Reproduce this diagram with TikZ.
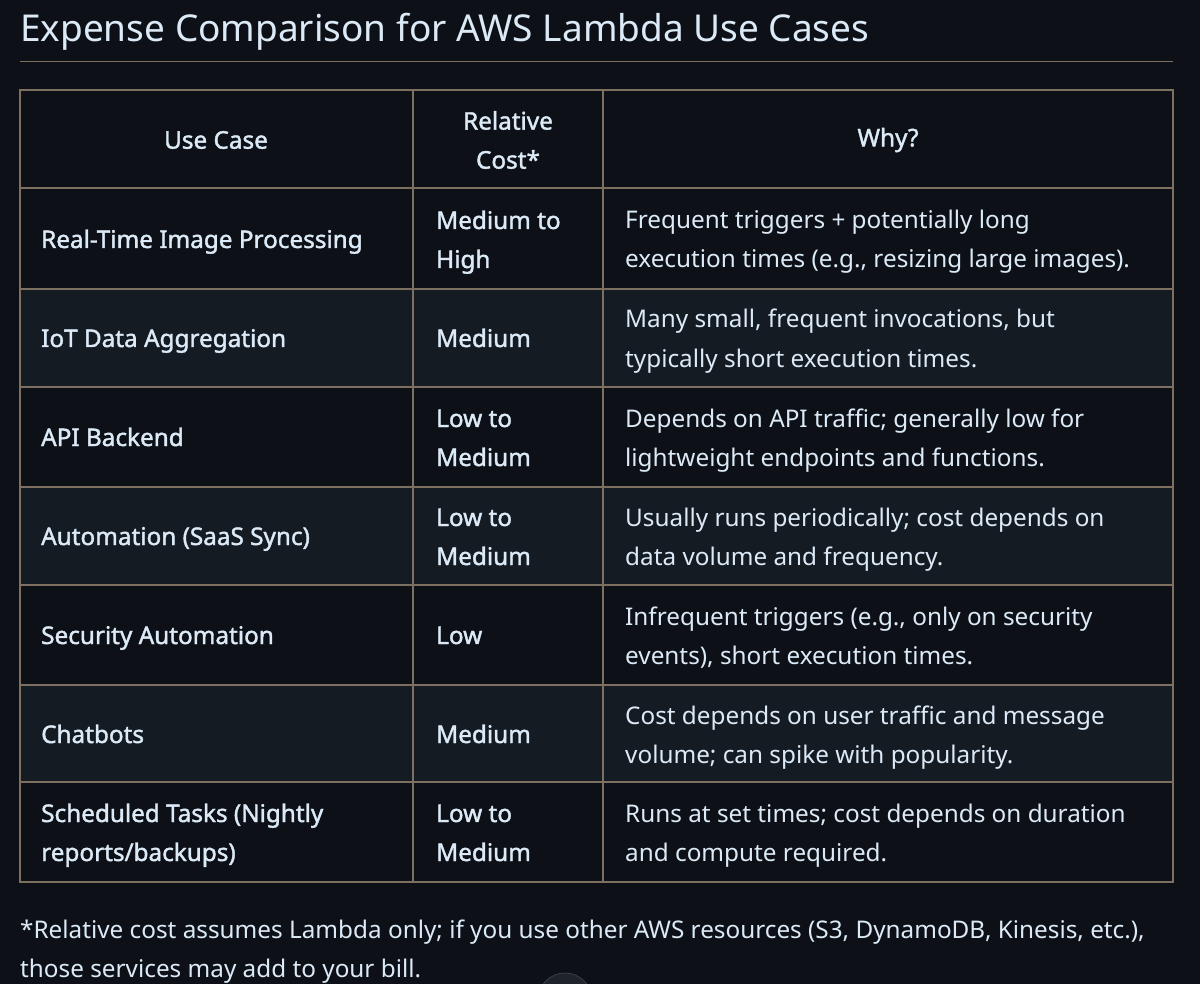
\documentclass[tikz,border=0pt]{standalone}
\usepackage{fontspec}
\setmainfont{Noto Sans}[AutoFakeBold=1.6]
\begin{document}
\begin{tikzpicture}[x=1pt,y=-1pt,
  txt/.style={anchor=base west,inner sep=0pt,text=fg,font=\fontsize{24.3}{39}\selectfont},
  bt/.style={txt,font=\fontsize{24.3}{39}\selectfont\bfseries},
  hd/.style={anchor=center,inner sep=0pt,text=fg,align=center,font=\fontsize{24.3}{39}\selectfont\bfseries}]
\definecolor{bg}{HTML}{0D1117}
\definecolor{alt}{HTML}{151B23}
\definecolor{fg}{HTML}{DCEAF7}
\definecolor{bd}{HTML}{7D7060}
\definecolor{btn}{HTML}{1F242C}
\definecolor{btnbd}{HTML}{3A3F47}
\useasboundingbox (0,0) rectangle (1200,984);
\fill[bg] (0,0) rectangle (1200,984);
\foreach \a/\b in {289/387,487/585,685/782}{\fill[alt] (20,\a) rectangle (1173,\b);}
\node[anchor=base west,inner sep=0pt,text=fg,font=\fontsize{37}{44}\selectfont] (title) at (20,42) {Expense Comparison for AWS Lambda Use Cases};
\draw[bd,line width=1pt] (20,62) -- (1173,62);
\draw[bd,line width=1.2pt] (20,90) rectangle (1173,882);
\foreach \y in {188,289,387,487,585,685,782}{\draw[bd,line width=1.2pt] (20,\y) -- (1173,\y);}
\foreach \x in {413,603}{\draw[bd,line width=1.2pt] (\x,90) -- (\x,882);}
\node[hd] (h1) at (216,140) {Use Case};
\node[hd] (h2) at (508,140) {Relative\\Cost*};
\node[hd] (h3) at (888,140) {Why?};
% rows
\node[bt] (a1) at (41,248) {Real-Time Image Processing};
\node[bt] (b1) at (436,229) {Medium to};
\node[bt] (b1b) at (436,268) {High};
\node[txt] (c1) at (625,229) {Frequent triggers + potentially long};
\node[txt] (c1b) at (625,268) {execution times (e.g., resizing large images).};
\node[bt] (a2) at (41,347) {IoT Data Aggregation};
\node[bt] (b2) at (436,347) {Medium};
\node[txt] (c2) at (625,328) {Many small, frequent invocations, but};
\node[txt] (c2b) at (625,367) {typically short execution times.};
\node[bt] (a3) at (41,446) {API Backend};
\node[bt] (b3) at (436,427) {Low to};
\node[bt] (b3b) at (436,466) {Medium};
\node[txt] (c3) at (625,427) {Depends on API traffic; generally low for};
\node[txt] (c3b) at (625,466) {lightweight endpoints and functions.};
\node[bt] (a4) at (41,545) {Automation (SaaS Sync)};
\node[bt] (b4) at (436,526) {Low to};
\node[bt] (b4b) at (436,565) {Medium};
\node[txt] (c4) at (625,526) {Usually runs periodically; cost depends on};
\node[txt] (c4b) at (625,565) {data volume and frequency.};
\node[bt] (a5) at (41,644) {Security Automation};
\node[bt] (b5) at (436,644) {Low};
\node[txt] (c5) at (625,625) {Infrequent triggers (e.g., only on security};
\node[txt] (c5b) at (625,664) {events), short execution times.};
\node[bt] (a6) at (41,743) {Chatbots};
\node[bt] (b6) at (436,743) {Medium};
\node[txt] (c6) at (625,724) {Cost depends on user traffic and message};
\node[txt] (c6b) at (625,763) {volume; can spike with popularity.};
\node[bt] (a7) at (41,822) {Scheduled Tasks (Nightly};
\node[bt] (a7b) at (41,861) {reports/backups)};
\node[bt] (b7) at (436,822) {Low to};
\node[bt] (b7b) at (436,861) {Medium};
\node[txt] (c7) at (625,822) {Runs at set times; cost depends on duration};
\node[txt] (c7b) at (625,861) {and compute required.};
\node[txt] (f1) at (20,938) {*Relative cost assumes Lambda only; if you use other AWS resources (S3, DynamoDB, Kinesis, etc.),};
\node[txt] (f2) at (20,977) {those services may add to your bill.};
\fill[btn] (565,1000) circle (27);
\draw[btnbd,line width=0.8pt] (565,1000) circle (27);
\end{tikzpicture}
\end{document}
